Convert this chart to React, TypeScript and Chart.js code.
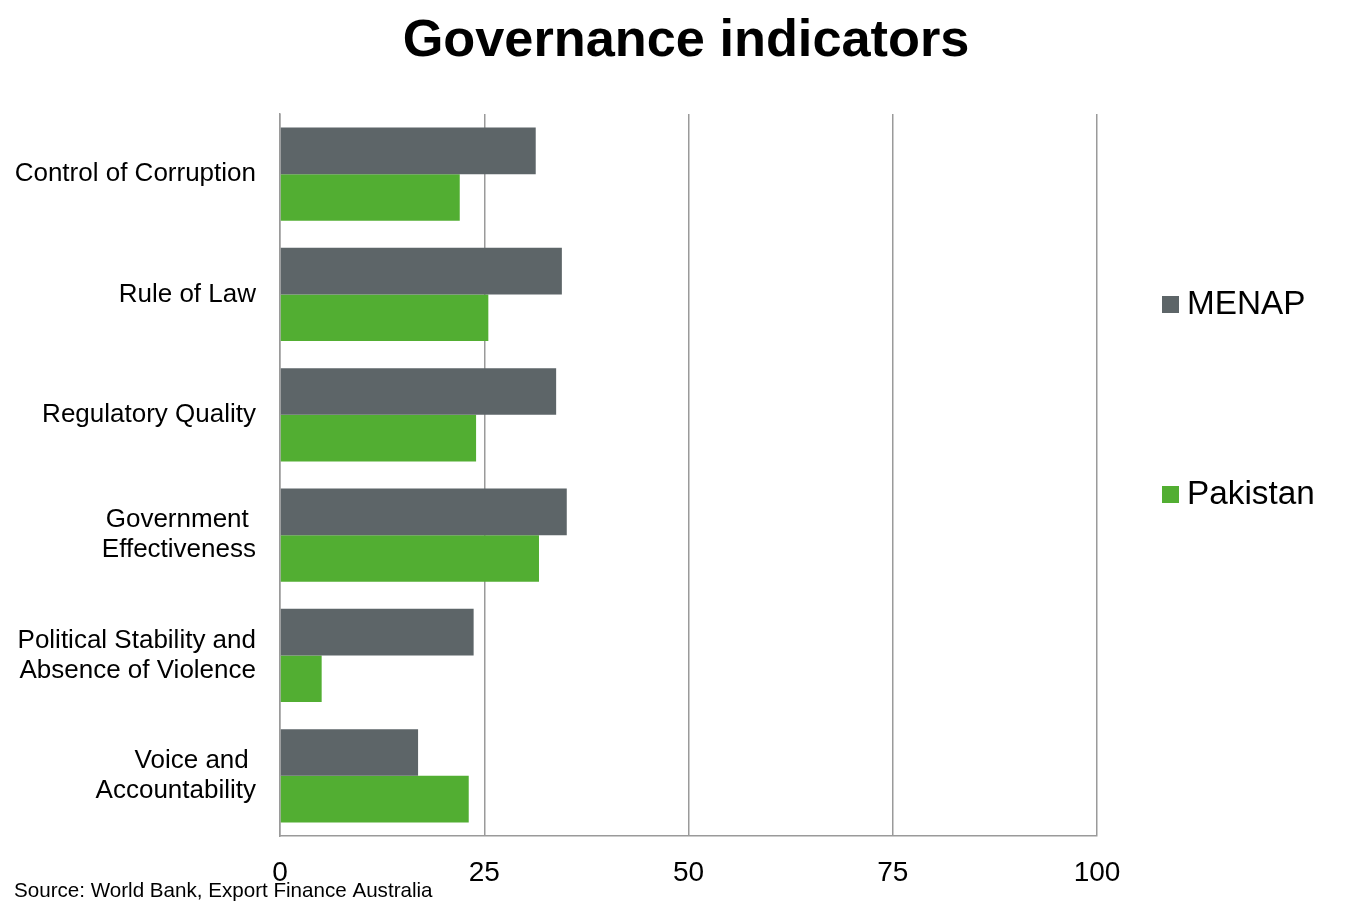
import React, { useEffect, useRef } from "react";
import { Chart, registerables } from "chart.js";

Chart.register(...registerables);

const categories: (string | string[])[] = [
  "Control of Corruption",
  "Rule of Law",
  "Regulatory Quality",
  ["Government ", "Effectiveness"],
  ["Political Stability and", "Absence of Violence"],
  ["Voice and ", "Accountability"],
];
const menap = [31.3, 34.5, 33.8, 35.1, 23.7, 16.9];
const pakistan = [22.0, 25.5, 24.0, 31.7, 5.1, 23.1];
const xTicks = [0, 25, 50, 75, 100];
const seriesNames = ["MENAP", "Pakistan"];
const titleText = "Governance indicators";
const sourceText = "Source: World Bank, Export Finance Australia";

const FONT = "'Liberation Sans', Arial, sans-serif";

const legendAndSource = {
  id: "legendAndSource",
  afterDraw(chart: any) {
    const ctx = chart.ctx;
    ctx.save();
    const ys = [304, 494];
    chart.data.datasets.forEach((ds: any, i: number) => {
      const y = ys[i];
      ctx.fillStyle = ds.backgroundColor;
      ctx.fillRect(1162, y - 8, 17, 17);
      ctx.fillStyle = "#000";
      ctx.font = `33.3px ${FONT}`;
      ctx.textBaseline = "middle";
      ctx.textAlign = "left";
      ctx.fillText(ds.label, 1187, y + 1);
    });
    ctx.font = `20.6px ${FONT}`;
    ctx.fillStyle = "#000";
    ctx.textBaseline = "middle";
    ctx.textAlign = "left";
    ctx.fillText(sourceText, 14, 891);
    ctx.restore();
  },
};

export default function App() {
  const ref = useRef<HTMLCanvasElement>(null);
  useEffect(() => {
    if (!ref.current) return;
    const chart = new Chart(ref.current, {
      type: "bar",
      data: {
        labels: categories as any,
        datasets: [
          {
            label: seriesNames[0],
            data: menap,
            backgroundColor: "#5d6568",
            categoryPercentage: 0.775,
            barPercentage: 1,
          },
          {
            label: seriesNames[1],
            data: pakistan,
            backgroundColor: "#52ae32",
            categoryPercentage: 0.775,
            barPercentage: 1,
          },
        ],
      },
      options: {
        indexAxis: "y",
        animation: false,
        responsive: true,
        maintainAspectRatio: false,
        devicePixelRatio: 1,
        layout: { padding: 0 },
        plugins: {
          legend: { display: false },
          tooltip: { enabled: false },
          title: {
            display: true,
            text: titleText,
            color: "#000",
            font: { family: FONT, size: 52.3, weight: "bold", lineHeight: 1.2 },
            padding: { top: 10, bottom: 41.2 },
          },
        },
        scales: {
          x: {
            type: "linear",
            min: 0,
            max: 100,
            afterBuildTicks: (s: any) => {
              s.ticks = xTicks.map((v) => ({ value: v }));
            },
            afterFit: (s: any) => {
              s.height = 73;
            },
            grid: { display: true, color: "#9a9a9a", lineWidth: 1.5, drawTicks: false },
            border: { display: true, color: "#9a9a9a", width: 1.5 },
            ticks: {
              color: "#000",
              padding: 20,
              font: { family: FONT, size: 28 },
            },
          },
          y: {
            type: "category",
            afterFit: (s: any) => {
              s.width = 280;
            },
            grid: { display: false, drawTicks: false },
            border: { display: true, color: "#9a9a9a", width: 1.5 },
            ticks: {
              color: "#000",
              padding: 24,
              font: { family: FONT, size: 26, lineHeight: 30 / 26 },
            },
          },
          y2: {
            type: "category",
            position: "right",
            display: true,
            afterFit: (s: any) => {
              s.width = 275;
            },
            grid: { display: false, drawTicks: false },
            border: { display: false },
            ticks: { display: false },
          },
        },
      },
      plugins: [legendAndSource],
    });
    return () => chart.destroy();
  }, []);
  return (
    <div style={{ position: "absolute", left: 0, top: 0, width: 1372, height: 909, background: "#fff" }}>
      <canvas ref={ref} />
    </div>
  );
}
